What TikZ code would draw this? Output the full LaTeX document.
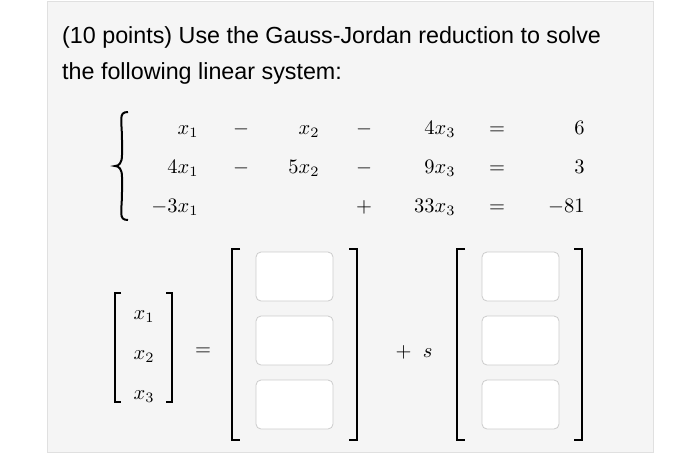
\documentclass[tikz,border=0pt]{standalone}
\usepackage{amsmath}
\usepackage{fontspec}
\setmainfont{Liberation Sans}
\begin{document}
\begin{tikzpicture}[x=1pt,y=-1pt,
  m/.style={scale=2.05,transform shape},
  ml/.style={m,anchor=base east},
  blank/.style={draw=black!20,fill=white,rounded corners=5pt,line width=0.8pt},
  brk/.style={line width=1.6pt}]
\useasboundingbox (0,0) rectangle (700,467);
\fill[white] (0,0) rectangle (700,467);
\draw[fill=black!4,draw=black!12] (47,1) rectangle (653,452);
\node[anchor=base west,font=\fontsize{23.3}{26}\selectfont,inner sep=0pt] (t1) at (62,43) {(10 points) Use the Gauss-Jordan reduction to solve};
\node[anchor=base west,font=\fontsize{23.3}{26}\selectfont,inner sep=0pt] (t2) at (62,79) {the following linear system:};
% system
\draw[line width=2pt] (128,112) .. controls (118,112) and (122,120) .. (122,140) -- (122,155) .. controls (122,163) and (119,166) .. (115,166) .. controls (119,166) and (122,169) .. (122,177) -- (122,192) .. controls (122,212) and (118,220) .. (128,220);
\begin{scope}[inner sep=0pt]
\node[ml] (a1) at (199,134) {$x_1$};
\node[ml] (a2) at (199,173) {$4x_1$};
\node[ml] (a3) at (199,212) {$-3x_1$};
\node[m,anchor=base] (s1) at (241,134) {$-$};
\node[m,anchor=base] (s2) at (241,173) {$-$};
\node[ml] (b1) at (320,134) {$x_2$};
\node[ml] (b2) at (320,173) {$5x_2$};
\node[m,anchor=base] (t1s) at (364,134) {$-$};
\node[m,anchor=base] (t2s) at (364,173) {$-$};
\node[m,anchor=base] (t3s) at (364,212) {$+$};
\node[ml] (c1) at (456,134) {$4x_3$};
\node[ml] (c2) at (456,173) {$9x_3$};
\node[ml] (c3) at (456,212) {$33x_3$};
\node[m,anchor=base] (e1) at (497,134) {$=$};
\node[m,anchor=base] (e2) at (497,173) {$=$};
\node[m,anchor=base] (e3) at (497,212) {$=$};
\node[ml] (d1) at (585,134) {$6$};
\node[ml] (d2) at (585,173) {$3$};
\node[ml] (d3) at (585,212) {$-81$};
% vector
\node[m,anchor=base] (x1) at (144,319) {$x_1$};
\node[m,anchor=base] (x2) at (144,359) {$x_2$};
\node[m,anchor=base] (x3) at (144,399) {$x_3$};
\node[m,anchor=base] (eq) at (203,355) {$=$};
\node[m,anchor=base] (ps) at (414,357) {$+\;\;s$};
\end{scope}
\draw[brk] (121,293) -- (115,293) -- (115,402) -- (121,402);
\draw[brk] (166,293) -- (172,293) -- (172,402) -- (166,402);
\draw[brk] (240,249) -- (232,249) -- (232,440) -- (240,440);
\draw[brk] (349,249) -- (357,249) -- (357,440) -- (349,440);
\draw[brk] (465,249) -- (457,249) -- (457,440) -- (465,440);
\draw[brk] (574,249) -- (582,249) -- (582,440) -- (574,440);
\foreach \xx/\n in {256/p,482/q}{
 \draw[blank] (\xx,252) rectangle ++(77,49);
 \draw[blank] (\xx,316) rectangle ++(77,49);
 \draw[blank] (\xx,380) rectangle ++(77,49);}
\end{tikzpicture}
\end{document}
